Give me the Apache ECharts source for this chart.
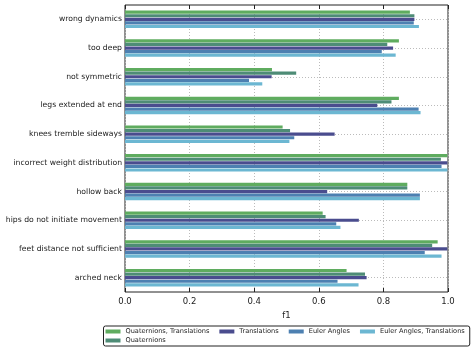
<!DOCTYPE html>
<html>
<head>
<meta charset="utf-8">
<script src="https://cdn.jsdelivr.net/npm/echarts@6/dist/echarts.min.js"></script>
<style>
  html, body { margin: 0; padding: 0; background: #fff; }
  #chart { width: 474px; height: 352px; }
</style>
</head>
<body>
<div id="chart"></div>
<script>
// categories, top to bottom
const categories = [
  'wrong dynamics', 'too deep', 'not symmetric', 'legs extended at end',
  'knees tremble sideways', 'incorrect weight distribution', 'hollow back',
  'hips do not initiate movement', 'feet distance not sufficient', 'arched neck'
];

// f1 values per series, same order as categories
const quatTrans = [0.882, 0.848, 0.455, 0.848, 0.488, 0.998, 0.874, 0.612, 0.968, 0.686];
const quaternions = [0.896, 0.812, 0.530, 0.825, 0.511, 0.978, 0.874, 0.621, 0.951, 0.743];
const translations = [0.896, 0.830, 0.454, 0.781, 0.649, 0.998, 0.626, 0.724, 0.998, 0.748];
const eulerAngles = [0.894, 0.795, 0.384, 0.909, 0.524, 0.980, 0.913, 0.654, 0.928, 0.658];
const eulerTrans = [0.910, 0.838, 0.425, 0.915, 0.509, 0.998, 0.913, 0.667, 0.980, 0.723];

// legend: first row, then the wrapped second row
const legendRow1 = ['Quaternions, Translations', 'Translations', 'Euler Angles', 'Euler Angles, Translations'];
const legendRow2 = ['Quaternions'];

const font = 'DejaVu Sans';
const chart = echarts.init(document.getElementById('chart'));

const bar = (name, data, color) => ({
  name, type: 'bar', data,
  barWidth: 3.2, barGap: '12%',
  itemStyle: { color },
  z: 3
});

const legendText = { color: '#222', fontSize: 6.6, fontFamily: font };

chart.setOption({
  animation: false,
  textStyle: { fontFamily: font },
  grid: {
    left: 125, right: 26, top: 5, bottom: 60, outerBoundsMode: 'none',
    show: true, borderColor: '#222', borderWidth: 1
  },
  xAxis: [{
    type: 'value', min: 0, max: 1, interval: 0.2,
    name: 'f1', nameLocation: 'middle', nameGap: 15,
    nameTextStyle: { color: '#222', fontSize: 8.5, fontFamily: font },
    axisLine: { show: false },
    axisTick: { show: true, inside: true, length: 4, lineStyle: { color: '#222' } },
    axisLabel: { color: '#222', fontSize: 8.5, fontFamily: font, margin: 5, formatter: v => v.toFixed(1) },
    splitLine: { show: true, lineStyle: { color: '#bbb', type: [1, 2], width: 1 } }
  }, {
    type: 'value', position: 'top', min: 0, max: 1, interval: 0.2,
    axisLine: { show: false }, axisLabel: { show: false }, splitLine: { show: false },
    axisTick: { show: true, inside: true, length: 4, lineStyle: { color: '#222' } }
  }],
  yAxis: {
    type: 'category', data: categories, inverse: true,
    axisLine: { show: false },
    axisTick: { show: true, inside: true, alignWithLabel: true, length: 4, lineStyle: { color: '#222' } },
    axisLabel: { color: '#222', fontSize: 7.7, fontFamily: font, margin: 3 },
    splitLine: { show: false }
  },
  legend: [{
    left: 103.5, top: 326,
    data: legendRow1,
    itemWidth: 15, itemHeight: 4, itemGap: 10,
    padding: [2, 5, 11, 2],
    borderColor: '#222', borderWidth: 1, borderRadius: 2,
    icon: 'rect',
    textStyle: legendText
  }, {
    left: 105.5, top: 337,
    data: legendRow2,
    itemWidth: 15, itemHeight: 4,
    padding: 0,
    icon: 'rect',
    textStyle: legendText
  }],
  series: [
    bar('Quaternions, Translations', quatTrans, '#5fac5f'),
    bar('Quaternions', quaternions, '#4e8c76'),
    bar('Translations', translations, '#4a4c8e'),
    bar('Euler Angles', eulerAngles, '#4d80b1'),
    bar('Euler Angles, Translations', eulerTrans, '#6cb7d2'),
    {
      name: 'grid-h', type: 'line', data: [], z: 1, silent: true,
      markLine: {
        z: 1, symbol: 'none', silent: true, label: { show: false },
        lineStyle: { color: '#bbb', type: [1, 2], width: 1 },
        data: categories.map(c => ({ yAxis: c }))
      }
    }
  ]
});
</script>
</body>
</html>
